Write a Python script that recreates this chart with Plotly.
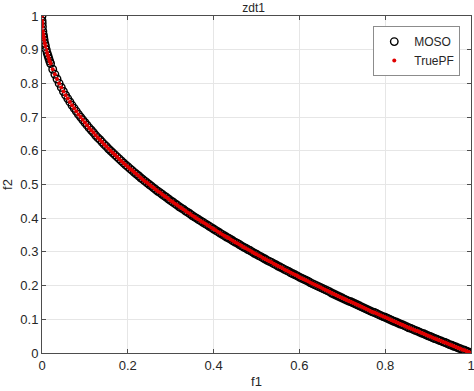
import plotly.graph_objects as go

# Points along the front
front_f1 = [0, 0.0002, 0.0005, 0.001, 0.002, 0.003, 0.004, 0.005, 0.0065, 0.008,
            0.01, 0.012, 0.014, 0.016, 0.018, 0.02, 0.025, 0.03, 0.035, 0.04,
            0.045, 0.05, 0.055, 0.06, 0.065, 0.07, 0.075, 0.08, 0.085, 0.09,
            0.095, 0.10, 0.105, 0.11, 0.115, 0.12, 0.125, 0.13, 0.135, 0.14,
            0.145, 0.15, 0.155, 0.16, 0.165, 0.17, 0.175, 0.18, 0.185, 0.19,
            0.195, 0.20, 0.205, 0.21, 0.215, 0.22, 0.225, 0.23, 0.235, 0.24,
            0.245, 0.25, 0.255, 0.26, 0.265, 0.27, 0.275, 0.28, 0.285, 0.29,
            0.295, 0.30, 0.305, 0.31, 0.315, 0.32, 0.325, 0.33, 0.335, 0.34,
            0.345, 0.35, 0.355, 0.36, 0.365, 0.37, 0.375, 0.38, 0.385, 0.39,
            0.395, 0.40, 0.405, 0.41, 0.415, 0.42, 0.425, 0.43, 0.435, 0.44,
            0.445, 0.45, 0.455, 0.46, 0.465, 0.47, 0.475, 0.48, 0.485, 0.49,
            0.495, 0.50, 0.505, 0.51, 0.515, 0.52, 0.525, 0.53, 0.535, 0.54,
            0.545, 0.55, 0.555, 0.56, 0.565, 0.57, 0.575, 0.58, 0.585, 0.59,
            0.595, 0.60, 0.605, 0.61, 0.615, 0.62, 0.625, 0.63, 0.635, 0.64,
            0.645, 0.65, 0.655, 0.66, 0.665, 0.67, 0.675, 0.68, 0.685, 0.69,
            0.695, 0.70, 0.705, 0.71, 0.715, 0.72, 0.725, 0.73, 0.735, 0.74,
            0.745, 0.75, 0.755, 0.76, 0.765, 0.77, 0.775, 0.78, 0.785, 0.79,
            0.795, 0.80, 0.805, 0.81, 0.815, 0.82, 0.825, 0.83, 0.835, 0.84,
            0.845, 0.85, 0.855, 0.86, 0.865, 0.87, 0.875, 0.88, 0.885, 0.89,
            0.895, 0.90, 0.905, 0.91, 0.915, 0.92, 0.925, 0.93, 0.935, 0.94,
            0.945, 0.95, 0.955, 0.96, 0.965, 0.97, 0.975, 0.98, 0.985, 0.99,
            0.995, 1.0]
front_f2 = [1.0, 0.986, 0.978, 0.968, 0.955, 0.945, 0.937, 0.929, 0.919, 0.911,
            0.900, 0.890, 0.882, 0.874, 0.866, 0.859, 0.842, 0.827, 0.813, 0.800,
            0.788, 0.776, 0.765, 0.755, 0.745, 0.735, 0.726, 0.717, 0.708, 0.700,
            0.692, 0.684, 0.676, 0.668, 0.661, 0.654, 0.646, 0.639, 0.633, 0.626,
            0.619, 0.613, 0.606, 0.600, 0.594, 0.588, 0.582, 0.576, 0.570, 0.564,
            0.558, 0.553, 0.547, 0.542, 0.536, 0.531, 0.526, 0.520, 0.515, 0.510,
            0.505, 0.500, 0.495, 0.490, 0.485, 0.480, 0.476, 0.471, 0.466, 0.462,
            0.457, 0.452, 0.448, 0.443, 0.439, 0.434, 0.430, 0.426, 0.421, 0.417,
            0.413, 0.408, 0.404, 0.400, 0.396, 0.392, 0.388, 0.384, 0.380, 0.376,
            0.372, 0.368, 0.364, 0.360, 0.356, 0.352, 0.348, 0.344, 0.341, 0.337,
            0.333, 0.329, 0.326, 0.322, 0.318, 0.314, 0.311, 0.307, 0.304, 0.300,
            0.296, 0.293, 0.289, 0.286, 0.282, 0.279, 0.275, 0.272, 0.269, 0.265,
            0.262, 0.258, 0.255, 0.252, 0.248, 0.245, 0.242, 0.238, 0.235, 0.232,
            0.229, 0.225, 0.222, 0.219, 0.216, 0.213, 0.209, 0.206, 0.203, 0.200,
            0.197, 0.194, 0.191, 0.188, 0.185, 0.182, 0.178, 0.175, 0.172, 0.169,
            0.166, 0.163, 0.160, 0.157, 0.154, 0.152, 0.149, 0.146, 0.143, 0.140,
            0.137, 0.134, 0.131, 0.128, 0.125, 0.122, 0.120, 0.117, 0.114, 0.111,
            0.108, 0.106, 0.103, 0.100, 0.097, 0.094, 0.092, 0.089, 0.086, 0.084,
            0.081, 0.078, 0.075, 0.073, 0.070, 0.067, 0.065, 0.062, 0.059, 0.057,
            0.054, 0.051, 0.049, 0.046, 0.043, 0.041, 0.038, 0.036, 0.033, 0.031,
            0.028, 0.025, 0.023, 0.020, 0.018, 0.015, 0.013, 0.010, 0.008, 0.005,
            0.003, 0.0]

x_ticks = [0, 0.2, 0.4, 0.6, 0.8, 1]
x_tick_labels = ["0", "0.2", "0.4", "0.6", "0.8", "1"]
y_ticks = [0, 0.1, 0.2, 0.3, 0.4, 0.5, 0.6, 0.7, 0.8, 0.9, 1]
y_tick_labels = ["0", "0.1", "0.2", "0.3", "0.4", "0.5", "0.6", "0.7", "0.8", "0.9", "1"]

FONT = "Liberation Sans, Arial, sans-serif"
AX = "#4d4d4d"

fig = go.Figure()
fig.add_trace(go.Scatter(
    x=front_f1, y=front_f2, mode="markers", name="MOSO",
    marker=dict(symbol="circle-open", size=7.5, color="black", line=dict(width=1.4, color="black")),
))
fig.add_trace(go.Scatter(
    x=front_f1, y=front_f2, mode="markers", name="TruePF",
    marker=dict(symbol="circle", size=4, color="#e00000", line=dict(width=0)),
))

axis_common = dict(
    range=[0, 1], showgrid=True, gridcolor="#e6e6e6", gridwidth=1,
    showline=True, linecolor=AX, linewidth=1, mirror="ticks",
    ticks="inside", ticklen=4, tickcolor=AX, zeroline=False,
    ticklabeloverflow="allow",
    tickfont=dict(family=FONT, size=13, color="#262626"),
)
fig.update_xaxes(**axis_common, tickvals=x_ticks, ticktext=x_tick_labels,
                 title=dict(text="f1", font=dict(family=FONT, size=13, color="#262626"), standoff=5))
fig.update_yaxes(**axis_common, tickvals=y_ticks, ticktext=y_tick_labels,
                 title=dict(text="f2", font=dict(family=FONT, size=13, color="#262626"), standoff=6))

fig.update_layout(
    width=474, height=391,
    margin=dict(l=42, r=3, t=16, b=38, autoexpand=False),
    paper_bgcolor="white", plot_bgcolor="white",
    title=dict(text="zdt1", x=0.535, xanchor="center", y=0.992, yanchor="top",
               font=dict(family=FONT, size=12, color="#262626")),
    legend=dict(x=0.975, y=0.97, xanchor="right", yanchor="top",
                bgcolor="white", bordercolor="#8c8c8c", borderwidth=1,
                font=dict(family=FONT, size=12, color="#262626"),
                itemsizing="trace", tracegroupgap=0),
    showlegend=True,
)

fig.write_html("out.html", post_script="document.body.style.margin='0';",
               config={"displayModeBar": False})
